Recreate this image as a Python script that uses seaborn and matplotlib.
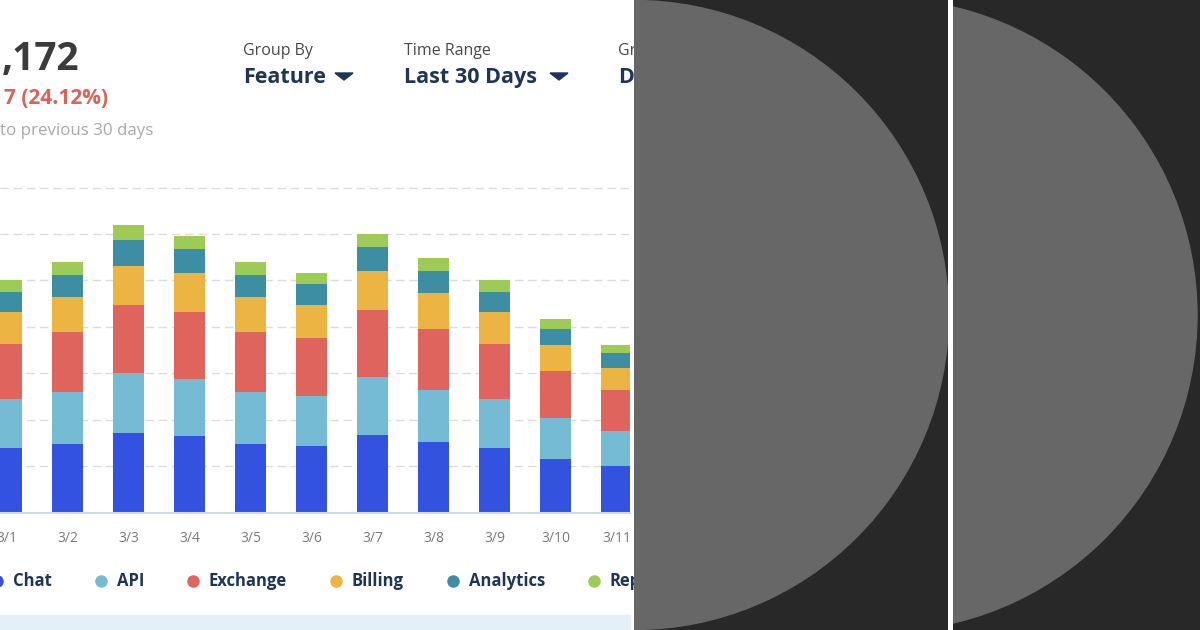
import numpy as np
import pandas as pd
import matplotlib.pyplot as plt
import seaborn as sns
from matplotlib.lines import Line2D
import matplotlib.patches as mpatches

# data, one value per day and feature (grid step = 25)
days = ["3/1", "3/2", "3/3", "3/4", "3/5", "3/6", "3/7", "3/8", "3/9", "3/10", "3/11"]
features = ["Chat", "API", "Exchange", "Billing", "Analytics", "Reports"]
chat = [35, 37, 43, 41, 37, 36, 42, 38, 35, 29, 25]
api = [26, 28, 32, 31, 28, 27, 31, 28, 26, 22, 19]
exchange = [30, 32, 37, 36, 32, 31, 36, 33, 30, 25, 22]
billing = [17, 19, 21, 21, 19, 18, 21, 19, 17, 14, 12]
analytics = [11, 12, 14, 13, 12, 11, 13, 12, 11, 9, 8]
reports = [6, 7, 8, 7, 7, 6, 7, 7, 6, 5, 4]
colors = ["#3352e0", "#74bbd3", "#e0645e", "#ebb443", "#3d8da3", "#9dcb55"]

sns.set_style("white")
FONT = ["Open Sans", "DejaVu Sans"]
plt.rcParams["font.family"] = FONT

W, H = 1200, 630
fig = plt.figure(figsize=(12, 6.3), dpi=100)
fig.patch.set_facecolor("white")

def fx(px):
    return px / W

def fy(py):
    return 1 - py / H

# stacked bar chart, axes runs off the left edge like the cropped screenshot
ax = fig.add_axes([0, fy(512.5), fx(630), 334.1 / H])
df = pd.DataFrame({"day": days, "Chat": chat, "API": api, "Exchange": exchange,
                   "Billing": billing, "Analytics": analytics, "Reports": reports})
bottom = np.zeros(len(days))
for feat, col in zip(features, colors):
    sns.barplot(data=df, x="day", y=feat, color=col, width=0.52, saturation=1,
                errorbar=None, linewidth=0, bottom=bottom, ax=ax)
    bottom = bottom + df[feat].values

ax.set_xlim(-6.5 / 61, (630 - 6.5) / 61)
ax.set_ylim(0, 180)
ax.set_yticks(np.arange(25, 176, 25))
ax.set_yticklabels([])
ax.yaxis.grid(True, linestyle=(0, (6, 3.5)), color="#dcdcdc", linewidth=1)
ax.set_axisbelow(True)
ax.set_xlabel("")
ax.set_ylabel("")
ax.tick_params(axis="x", length=0, pad=13, labelsize=10, labelcolor="#7a7a7a")
ax.tick_params(axis="y", length=0)
for s in ["top", "right", "left"]:
    ax.spines[s].set_visible(False)
ax.spines["bottom"].set_color("#d3d9e1")
ax.spines["bottom"].set_linewidth(1.5)

# header texts (only the part that the crop shows)
fig.text(fx(79), fy(70), ",172", ha="right", va="baseline", fontsize=28,
         weight="bold", color="#3b3b3b")
fig.text(fx(108), fy(104), "7 (24.12%)", ha="right", va="baseline", fontsize=15,
         weight="bold", color="#d9625a")
fig.text(fx(153), fy(135), "to previous 30 days", ha="right", va="baseline",
         fontsize=12.2, color="#a9a9a9")

navy = "#1f3557"
for x0, label, value, tri in [(243, "Group By", "Feature", 335),
                              (404, "Time Range", "Last 30 Days", 550),
                              (618, "Granularity", "Daily", 680)]:
    fig.text(fx(x0), fy(55), label, ha="left", va="baseline", fontsize=11.5, color="#4a4a4a")
    fig.text(fx(x0), fy(83), value, ha="left", va="baseline", fontsize=15.5,
             weight="bold", color=navy)
    fig.add_artist(mpatches.Polygon([(fx(tri), fy(73)), (fx(tri + 18), fy(73)),
                                     (fx(tri + 9), fy(80))], closed=True,
                                    transform=fig.transFigure, color=navy))

# legend
handles = [Line2D([], [], marker="o", linestyle="", markersize=9, color=c,
                  markeredgewidth=0) for c in colors]
fig.legend(handles, features, loc="center left", bbox_to_anchor=(fx(-9), fy(581.5)),
           ncol=6, frameon=False, borderpad=0, borderaxespad=0, handlelength=0.7,
           handletextpad=0.61, columnspacing=2.58, labelcolor=navy,
           prop={"size": 12, "weight": "bold", "family": FONT})

# pale strip at the bottom of the white panel
fig.add_artist(mpatches.Rectangle((0, 0), fx(630), 15 / H, transform=fig.transFigure,
                                  color="#e3f0f8", zorder=1))

# dark panels with grey half discs
for left, right, cx, r in [(634, 948, 634, 314.5), (953, 1200, 880.5, 316.5)]:
    p = fig.add_axes([fx(left), 0, fx(right) - fx(left), 1], zorder=10)
    p.set_facecolor("#282828")
    p.set_xlim(left, right)
    p.set_ylim(H, 0)
    p.add_patch(mpatches.Circle((cx, 315), r, color="#676767"))
    p.set_xticks([])
    p.set_yticks([])
    for s in p.spines.values():
        s.set_visible(False)

fig.savefig("out.png", dpi=100)
